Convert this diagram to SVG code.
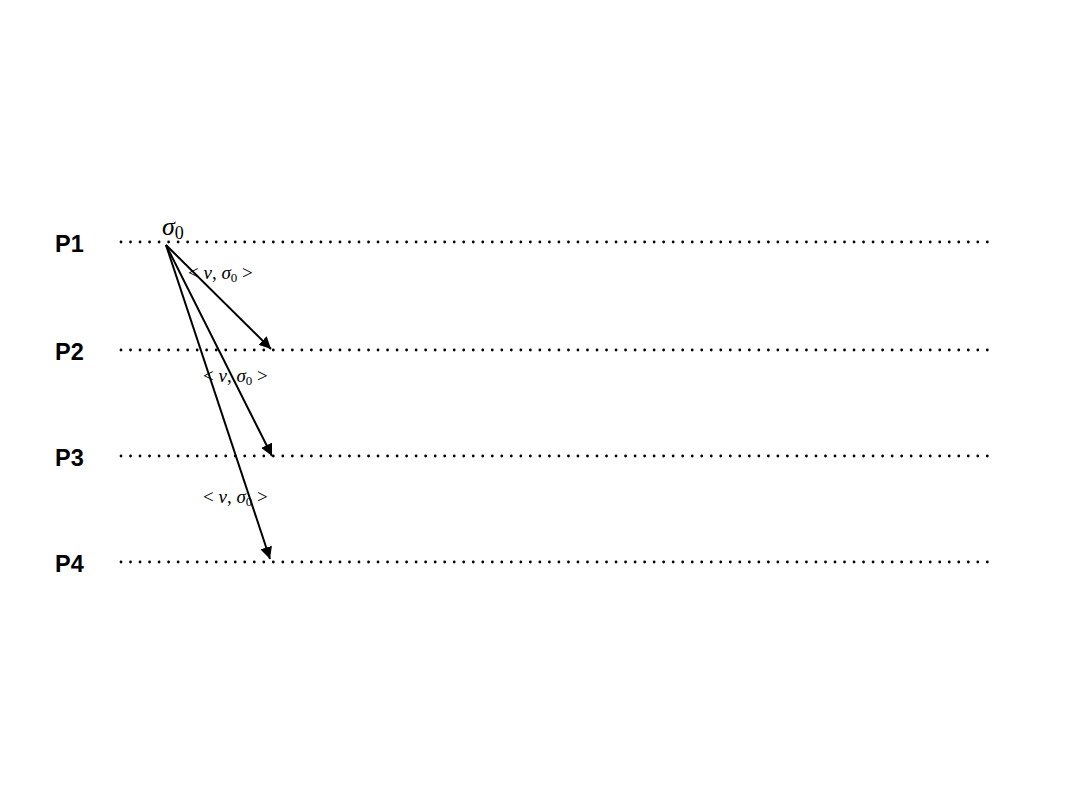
<svg xmlns="http://www.w3.org/2000/svg" width="1080" height="810" viewBox="0 0 1080 810">
<defs>
<style>
.proc{font-family:"Liberation Sans",Arial,sans-serif;font-weight:bold;font-size:23.5px;fill:#000}
.dot{stroke:#000;stroke-width:2.8;stroke-linecap:round;stroke-dasharray:0 9.52;fill:none}
.lbl{font-family:"Liberation Serif","Times New Roman",serif;font-size:19px;fill:#000}
.big{font-size:26px}
.it{font-style:italic}
.sub{font-size:13px}
.bigsub{font-size:18px}
</style>
<marker id="ah2" viewBox="0 0 10 10" refX="10" refY="5" markerWidth="6" markerHeight="6" orient="auto">
<path d="M0,0 L10,5 L0,10 z" fill="#000"/>
</marker>
</defs>
<rect width="1080" height="810" fill="#fff"/>
<g id="P1">
<text class="proc" x="55" y="252">P1</text>
<path class="dot" d="M121,242 H988"/>
</g>
<g id="P2">
<text class="proc" x="55" y="360">P2</text>
<path class="dot" d="M121,350 H988"/>
</g>
<g id="P3">
<text class="proc" x="55" y="466">P3</text>
<path class="dot" d="M121,456 H988"/>
</g>
<g id="P4">
<text class="proc" x="55" y="572">P4</text>
<path class="dot" d="M121,562 H988"/>
</g>
<g id="sigma">
<text class="lbl big" x="162" y="235"><tspan class="it">σ</tspan><tspan class="bigsub" dy="4">0</tspan></text>
</g>
<g id="connectors">
<path d="M166,245 L271,349" stroke="#000" stroke-width="2" fill="none" marker-end="url(#ah2)"/>
<path d="M166,245 L272,456" stroke="#000" stroke-width="2" fill="none" marker-end="url(#ah2)"/>
<path d="M166,245 L270,559" stroke="#000" stroke-width="2" fill="none" marker-end="url(#ah2)"/>
</g>
<g id="labels">
<text class="lbl" x="188" y="279">&lt; <tspan class="it">v</tspan>, <tspan class="it">σ</tspan><tspan class="sub" dy="3">0</tspan><tspan dy="-3"> &gt;</tspan></text>
<text class="lbl" x="203" y="382">&lt; <tspan class="it">v</tspan>, <tspan class="it">σ</tspan><tspan class="sub" dy="3">0</tspan><tspan dy="-3"> &gt;</tspan></text>
<text class="lbl" x="203" y="503">&lt; <tspan class="it">v</tspan>, <tspan class="it">σ</tspan><tspan class="sub" dy="3">0</tspan><tspan dy="-3"> &gt;</tspan></text>
</g>
</svg>
